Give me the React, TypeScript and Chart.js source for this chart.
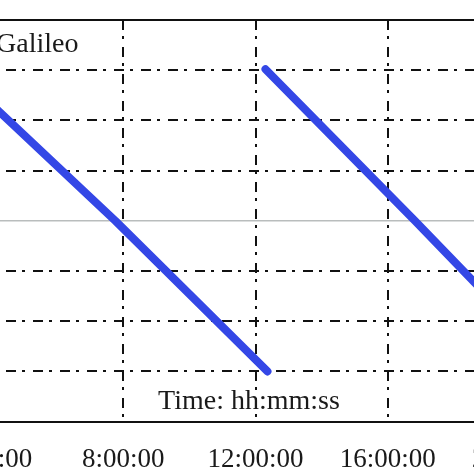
import React, { useEffect, useRef } from "react";
import { Chart, registerables } from "chart.js";

Chart.register(...registerables);

// ---- data ----
const seriesLabel = "Galileo";
const axisTitle = "Time: hh:mm:ss";
const tickHours = [4, 8, 12, 16, 20];
const segment1Hours = [3.0, 4.27, 7.76, 10.0, 12.36];
const segment1Values = [2.95, 2.16, 0, -1.46, -3.0];
const gapHour = 12.33;
const segment2Hours = [12.3, 16.82, 18.64, 20.5];
const segment2Values = [3.02, 0, -1.24, -2.5];
const xMin = 2;
const xMax = 22;
const yMin = -4;
const yMax = 4;

const DASH_DOT = [10, 6, 3, 8];
const SERIF = '"Liberation Serif", "Times New Roman", serif';

const overlayText = {
  id: "overlayText",
  afterDatasetsDraw(chart: any) {
    const { ctx, chartArea } = chart;
    ctx.save();
    ctx.fillStyle = "#1a1a1a";
    ctx.font = `28px ${SERIF}`;
    ctx.textBaseline = "alphabetic";
    ctx.textAlign = "left";
    ctx.fillText(chart.data.datasets[0].label, chartArea.left + 71, chartArea.top + 32);
    ctx.textAlign = "center";
    ctx.fillText(axisTitle, chartArea.left + 324, chartArea.bottom - 13);
    ctx.restore();
  },
};

export default function App() {
  const ref = useRef<HTMLCanvasElement | null>(null);

  useEffect(() => {
    if (!ref.current) return;
    const points: any[] = [
      ...segment1Hours.map((h, i) => ({ x: h, y: segment1Values[i] })),
      { x: gapHour, y: null },
      ...segment2Hours.map((h, i) => ({ x: h, y: segment2Values[i] })),
    ];
    const chart = new Chart(ref.current, {
      type: "line",
      data: {
        datasets: [
          {
            label: seriesLabel,
            data: points,
            borderColor: "#3447e6",
            backgroundColor: "#3447e6",
            borderWidth: 8,
            pointRadius: 0,
            tension: 0,
            spanGaps: false,
            borderCapStyle: "round",
            borderJoinStyle: "round",
          },
        ],
      },
      options: {
        animation: false,
        responsive: true,
        maintainAspectRatio: false,
        layout: { padding: { top: 20, bottom: 4, left: 0, right: 0 } },
        plugins: { legend: { display: false }, tooltip: { enabled: false } },
        scales: {
          x: {
            type: "linear",
            min: xMin,
            max: xMax,
            afterBuildTicks: (scale: any) => {
              scale.ticks = tickHours.map((v) => ({ value: v }));
            },
            grid: {
              drawTicks: false,
              color: "#111",
              lineWidth: 2,
            },
            border: {
              display: true,
              color: "#111",
              width: 2,
              dash: (c: any) => (c.type === "tick" ? DASH_DOT : []),
            } as any,
            ticks: {
              padding: 22,
              color: "#1a1a1a",
              font: { family: SERIF, size: 27 },
              maxRotation: 0,
              autoSkip: false,
              callback: (v: any) => `${v}:00:00`,
            },
          },
          y: {
            type: "linear",
            min: yMin,
            max: yMax,
            ticks: { display: false, stepSize: 1 },
            border: {
              display: false,
              dash: (c: any) =>
                c.type === "tick" && c.tick && c.tick.value !== 0 && c.tick.value !== yMax
                  ? DASH_DOT
                  : [],
            } as any,
            grid: {
              drawTicks: false,
              color: (c: any) => (c.tick && c.tick.value === 0 ? "#b9bdbd" : "#111"),
              lineWidth: (c: any) => (c.tick && c.tick.value === 0 ? 1.5 : 2),
            },
          },
        },
      },
      plugins: [overlayText],
    } as any);
    return () => chart.destroy();
  }, []);

  return (
    <div
      style={{
        position: "fixed",
        left: 0,
        top: 0,
        width: "100vw",
        height: "100vh",
        overflow: "hidden",
        background: "#fff",
      }}
    >
      <div style={{ position: "absolute", left: -75, top: 0, width: 665, height: 502 }}>
        <canvas ref={ref} />
      </div>
    </div>
  );
}
